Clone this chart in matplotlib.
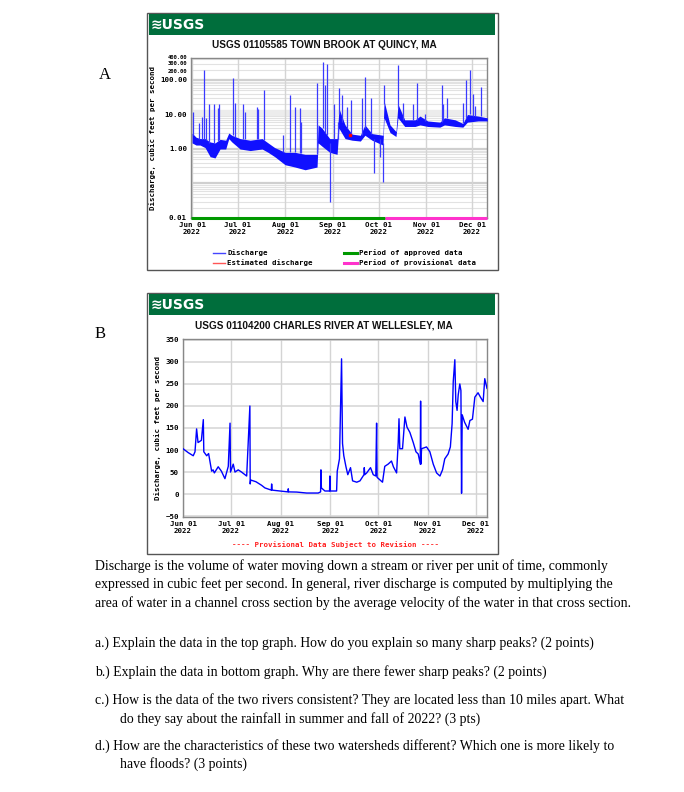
import numpy as np
import matplotlib
matplotlib.use("Agg")
import matplotlib.pyplot as plt
from matplotlib.patches import Rectangle
from matplotlib.ticker import FixedLocator, NullLocator
from matplotlib.transforms import ScaledTranslation

W, H = 684, 792

# ---- Town Brook (top, log scale), days since Jun 01 2022 ----
town_day = [0, 2.6, 5.2, 8.5, 11.8, 15, 18.3, 22, 24, 26, 31.4, 38, 45.8, 49.7, 54,
            60.8, 67.3, 73.9, 81.7, 82.4, 85, 90, 94.8, 96, 100, 104.6, 110, 113,
            117.6, 124.8, 125.5, 129.4, 133.3, 134.6, 139, 145.8, 149, 154, 162,
            165, 172, 177, 180, 187, 193]
town_low = [1.5, 1.3, 1.3, 1.1, 0.6, 0.55, 1.0, 1.0, 2.0, 1.6, 1.0, 0.9, 1.0, 0.8, 0.6,
            0.35, 0.3, 0.25, 0.3, 1.5, 1.2, 0.8, 0.7, 4, 2.0, 1.8, 1.7, 2.5,
            1.8, 1.3, 8, 3.0, 2.3, 8, 4.5, 4.5, 5, 4.5, 4.3,
            5, 4.5, 4.3, 6, 6.5, 6.5]
town_high = [2.9, 2.2, 2.0, 2.0, 1.6, 1.5, 1.9, 1.8, 2.9, 2.5, 2.0, 1.8, 2.0, 1.5, 1.1,
             0.8, 0.8, 0.7, 0.7, 5, 4, 2.0, 2.0, 15, 5, 2.7, 2.5, 5,
             2.8, 2.5, 25, 5, 3.2, 20, 7, 7, 9, 6.5, 6,
             8, 7, 5.5, 10, 9, 8]

spike_day = [0.9, 4.8, 6.3, 8.0, 9.0, 11.3, 14.6, 16.8, 17.6, 26.6, 28.1, 33.3, 34.6,
             42.3, 43.3, 47.3, 59.7, 64, 67.3, 70.6, 71.2, 81.9, 85.8, 86.9, 88.4, 93,
             95.2, 96.3, 98.2, 101.1, 104, 111, 113, 117, 125.5, 134.4, 138, 144.6,
             146.9, 152, 163.2, 164.3, 166.5, 177, 179, 181.7, 183.9, 185, 188.9]
spike_peak = [12, 5.7, 8.5, 195, 8, 20, 20, 15, 20, 115, 22, 20, 12,
              16, 14, 52, 2.5, 36, 16, 15, 6, 82, 340, 70, 300, 20,
              6, 59, 36, 16, 27, 30, 125, 30, 70, 270, 22, 20,
              82, 10, 70, 20, 30, 22, 100, 195, 40, 18, 64]
spike_base = [2.5, 2.0, 2.0, 2.0, 1.8, 1.5, 1.5, 1.7, 1.8, 2.5, 2.2, 1.9, 1.9,
              1.9, 1.9, 1.8, 0.8, 0.8, 0.8, 0.75, 0.75, 0.7, 4, 3, 2.5, 2.0,
              2.0, 10, 6, 4, 2.7, 2.5, 4, 2.8, 20, 15, 7, 7,
              7, 6.5, 6, 7, 8, 5.5, 8, 10, 9, 9, 9]

dip_day = [90.2, 119, 122.9, 124.6]
dip_min = [0.03, 0.2, 0.6, 0.11]
dip_top = [1.5, 2.0, 2.0, 1.5]

est_day = [103]
est_q = [2.6]

# ---- Charles River (bottom, linear) ----
charles_day = [0, 3.3, 6.4, 7.5, 8.5, 9.4, 11.5, 12.7, 13, 14.8, 16, 17.9, 18.8, 19.6,
               22, 24, 26.2, 28.3, 29.4, 29.7, 31.4, 32.5, 34.5, 36.6, 39.8, 41.8, 42.0,
               42.3, 45.6, 49.1, 51.2, 55.2, 55.4, 55.7, 60.6, 65.6, 65.8, 66.0, 71,
               77.3, 84.5, 86.0, 86.2, 86.5, 88.7, 91.6, 91.8, 92.0, 96, 96.4, 97.8, 99.1,
               99.7, 100.5, 101.8, 103, 104.7, 106, 108.6, 110.6, 113.1, 113.3, 113.6,
               114.8, 117.2, 118.9, 120.5, 121, 121.3, 124.7, 126.1, 128.2, 130.3, 131.5,
               133.5, 134.5, 135.0, 135.5, 137.2, 138.7, 140, 141.8, 143.9, 145.6, 147,
               148.3, 148.5, 148.7, 149.1, 152.2, 154.3, 156.4, 158.5, 160.6, 162.2,
               163.6, 165.7, 167.1, 168.2, 168.9, 169.9, 170.5, 171.3, 172, 173, 173.7,
               174.1, 174.5, 176, 178.2, 179.3, 180.9, 182.4, 184.4, 185.9, 187.6,
               188.6, 190]
charles_q = [103, 94, 87, 96, 148, 117, 122, 169, 96, 87, 92, 52, 55, 48,
             62, 52, 35, 63, 161, 50, 68, 50, 55, 50, 41, 200, 23,
             32, 28, 20, 14, 9, 23, 9, 7, 5, 12, 5, 4.6,
             2.4, 2.4, 5, 55, 14, 7, 7, 41, 7, 7, 52, 80, 307,
             115, 87, 63, 44, 60, 30, 27, 30, 44, 60, 44,
             48, 60, 44, 41, 161, 38, 27, 63, 68, 75, 62,
             48, 117, 171, 103, 103, 175, 152, 140, 117, 96, 91,
             68, 211, 68, 103, 107, 96, 68, 48, 41, 55,
             80, 91, 107, 160, 255, 305, 210, 190, 225, 250, 235,
             2, 180, 163, 147, 167, 170, 220, 230, 220, 210,
             262, 240]

tick_days = [0, 30, 61, 92, 122, 153, 183]
tick_names = ["Jun 01\n2022", "Jul 01\n2022", "Aug 01\n2022", "Sep 01\n2022",
              "Oct 01\n2022", "Nov 01\n2022", "Dec 01\n2022"]
top_yticks = [0.01, 1, 10, 100, 200, 300, 400]
top_ylabels = ["0.01", "1.00", "10.00", "100.00", "200.00", "300.00", "400.00"]
bot_yticks = [-50, 0, 50, 100, 150, 200, 250, 300, 350]

para = ["Discharge is the volume of water moving down a stream or river per unit of time, commonly",
        "expressed in cubic feet per second. In general, river discharge is computed by multiplying the",
        "area of water in a channel cross section by the average velocity of the water in that cross section."]
questions = [(95, 643, "a.) Explain the data in the top graph. How do you explain so many sharp peaks? (2 points)"),
             (95, 672, "b.) Explain the data in bottom graph. Why are there fewer sharp peaks? (2 points)"),
             (95, 700, "c.) How is the data of the two rivers consistent? They are located less than 10 miles apart. What"),
             (120, 719, "do they say about the rainfall in summer and fall of 2022? (3 pts)"),
             (95, 746, "d.) How are the characteristics of these two watersheds different? Which one is more likely to"),
             (120, 764, "have floods? (3 points)")]

MONO = "DejaVu Sans Mono"
SERIF = "Liberation Serif"
TITLE = ["Liberation Sans Narrow", "Liberation Sans"]
GRID = "#d4d4d4"
TXT = 9.95


def box(x0, y0, x1, y1):
    return [x0 / W, 1 - y1 / H, (x1 - x0) / W, (y1 - y0) / H]


fig = plt.figure(figsize=(W / 100, H / 100), dpi=100)

# overlay in pixel coordinates for frames and text
ov = fig.add_axes([0, 0, 1, 1])
ov.set_xlim(0, W)
ov.set_ylim(H, 0)
ov.axis("off")
ov.set_zorder(0)

for (fy0, fy1, title) in [(13, 270, "USGS 01105585 TOWN BROOK AT QUINCY, MA"),
                          (293, 554, "USGS 01104200 CHARLES RIVER AT WELLESLEY, MA")]:
    ov.add_patch(Rectangle((147, fy0), 351, fy1 - fy0, fill=False, ec="#555555", lw=1.0))
    ov.add_patch(Rectangle((149, fy0 + 1), 346, 21, fc="#006e3c", ec="none"))
    ov.text(151, fy0 + 12, "\u224bUSGS", color="white", fontsize=10, fontweight="bold",
            family="DejaVu Sans", va="center", ha="left")
    ov.text(324, fy0 + 32, title, fontsize=7.2, fontweight="bold", family=TITLE,
            ha="center", va="center", color="#111111")

ov.text(105, 75, "A", family=SERIF, fontsize=12, ha="center", va="center")
ov.text(100, 334, "B", family=SERIF, fontsize=12, ha="center", va="center")

# legend of top chart
ov.plot([213, 225], [253, 253], color="#4444ff", lw=1)
ov.plot([213, 225], [263, 263], color="#ff5555", lw=1)
ov.text(227, 253, "Discharge", family=MONO, fontsize=5.3, fontweight="bold", va="center")
ov.text(227, 263, "Estimated discharge", family=MONO, fontsize=5.3, fontweight="bold", va="center")
ov.plot([344, 357], [253, 253], color="#009900", lw=2.2)
ov.plot([344, 357], [263, 263], color="#ff33cc", lw=2.2)
ov.text(359, 253, "Period of approved data", family=MONO, fontsize=5.3, fontweight="bold", va="center")
ov.text(359, 263, "Period of provisional data", family=MONO, fontsize=5.3, fontweight="bold", va="center")

ov.text(335, 545, "---- Provisional Data Subject to Revision ----", family=MONO, fontsize=5.3,
        fontweight="bold", color="#ff2020", ha="center", va="center")

for i, line in enumerate(para):
    ov.text(95, 566 + i * 18.5, line, family=SERIF, fontsize=TXT, va="center")
for x, y, line in questions:
    ov.text(x, y, line, family=SERIF, fontsize=TXT, va="center")


def style_axes(ax):
    for s in ax.spines.values():
        s.set_color("#888888")
        s.set_linewidth(1.0)
    ax.xaxis.set_major_locator(FixedLocator(tick_days))
    ax.set_xticklabels(tick_names)
    ax.tick_params(length=0, pad=3, labelsize=5.3)
    for lab in ax.get_xticklabels() + ax.get_yticklabels():
        lab.set_family(MONO)
        lab.set_fontweight("bold")
    ax.set_ylabel("Discharge, cubic feet per second", family=MONO, fontsize=5.3,
                  fontweight="bold", labelpad=3)
    for d in tick_days:
        ax.axvline(d, color=GRID, lw=1.0, zorder=0)


# ---- top chart ----
ax1 = fig.add_axes(box(191, 58, 487, 218))
ax1.set_zorder(1)
ax1.set_yscale("log")
ax1.set_xlim(-0.7, 192.8)
ax1.set_ylim(0.01, 434)
for dec in [0.01, 0.1, 1, 10, 100]:
    for m in range(2, 10):
        ax1.axhline(dec * m, color="#e2e2e2", lw=0.8, zorder=0)
for v in [0.1, 1, 10, 100]:
    ax1.axhline(v, color="#cfcfcf", lw=1.6, zorder=0)
ax1.axhspan(9.5, 13.5, color="#ececec", zorder=0)
ax1.fill_between(town_day, town_low, town_high, color="#1010ff", lw=0, zorder=3)
ax1.vlines(spike_day, spike_base, spike_peak, color="#3a3aff", lw=0.9, zorder=3)
ax1.vlines(dip_day, dip_min, dip_top, color="#3a3aff", lw=0.9, zorder=3)
ax1.plot(est_day, est_q, "s", color="red", ms=1.5, zorder=4)
ax1.hlines(0.0102, -0.7, 126, color="#009900", lw=2.2, zorder=5, clip_on=False)
ax1.hlines(0.0102, 126, 192.8, color="#ff33cc", lw=2.2, zorder=5, clip_on=False)
ax1.yaxis.set_major_locator(FixedLocator(top_yticks))
ax1.yaxis.set_minor_locator(NullLocator())
ax1.set_yticklabels(top_ylabels)
style_axes(ax1)
# the three top labels sit very close together; shrink and spread them a little
shifts = {"200.00": -1.0, "300.00": 0.5, "400.00": 2.5}
for lab in ax1.get_yticklabels():
    t = lab.get_text()
    if t in shifts:
        lab.set_fontsize(4.0)
        lab.set_transform(lab.get_transform() + ScaledTranslation(0, shifts[t] / 100, fig.dpi_scale_trans))

# ---- bottom chart ----
ax2 = fig.add_axes(box(183, 339, 487, 517))
ax2.set_zorder(1)
ax2.set_xlim(0, 190)
ax2.set_ylim(-52, 352)
ax2.yaxis.set_major_locator(FixedLocator(bot_yticks))
for v in bot_yticks:
    ax2.axhline(v, color="#dedede", lw=1.4, zorder=0)
ax2.plot(charles_day, charles_q, color="blue", lw=1.0, zorder=3)
style_axes(ax2)

fig.savefig("out.png", dpi=100)
